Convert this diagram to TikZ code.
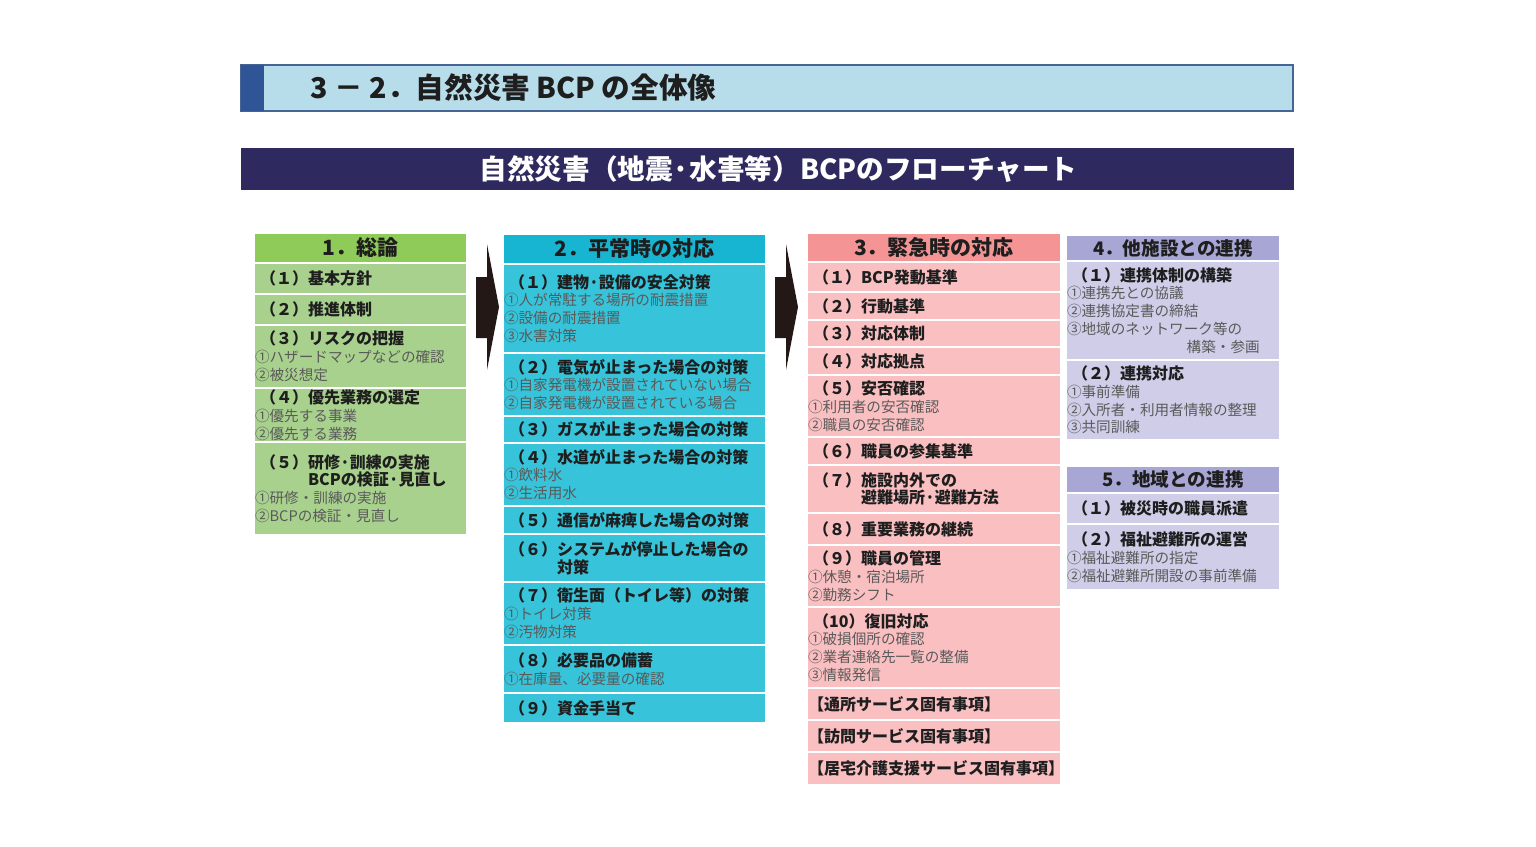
\documentclass[tikz,border=0pt]{standalone}
\usepackage{fontspec}
\setmainfont{Noto Sans CJK JP}
\usepackage{tikz}
\usetikzlibrary{positioning}
\definecolor{barblue}{RGB}{183,221,234}
\definecolor{bandblue}{RGB}{47,85,151}
\definecolor{barline}{RGB}{70,100,150}
\definecolor{navy}{RGB}{46,41,94}
\definecolor{grnhead}{RGB}{143,203,88}
\definecolor{grnrow}{RGB}{169,209,142}
\definecolor{cyanhead}{RGB}{24,181,210}
\definecolor{cyanrow}{RGB}{55,195,217}
\definecolor{pinkhead}{RGB}{245,148,148}
\definecolor{pinkrow}{RGB}{250,191,193}
\definecolor{lavhead}{RGB}{167,166,213}
\definecolor{lavrow}{RGB}{207,205,232}
\definecolor{arrowdark}{RGB}{35,24,21}
\definecolor{inkdark}{RGB}{30,30,30}
\definecolor{subgray}{RGB}{90,90,90}
\newcommand\subit[1]{{\hspace*{-2.5pt}\mdseries\color{subgray}\fontsize{7.3}{8.8}\selectfont #1}}
\newcommand\contind{\hspace*{3em}}
\tikzset{every node/.style={outer sep=0pt},
    rowh/.style={minimum height=#1*0.5pt},
    cell/.style={rectangle,draw=white,line width=0.8pt,inner xsep=3pt,inner ysep=0pt,
        align=left,text=inkdark,font=\bfseries\fontsize{8}{8.9}\selectfont},
    colhead/.style={cell,align=center,font=\bfseries\fontsize{10.5}{12}\selectfont},
    grnhd/.style={colhead,fill=grnhead,text width=100.5pt},
    grn/.style={cell,fill=grnrow,text width=100.5pt},
    cyanhd/.style={colhead,fill=cyanhead,text width=125.5pt},
    cyan/.style={cell,fill=cyanrow,text width=125.5pt},
    pinkhd/.style={colhead,fill=pinkhead,text width=121pt},
    pink/.style={cell,fill=pinkrow,text width=121pt},
    brk/.style={inner xsep=0.5pt,text width=126pt},
    lavhd/.style={colhead,fill=lavhead,text width=101pt,font=\bfseries\fontsize{9.3}{11}\selectfont},
    lav/.style={cell,fill=lavrow,text width=101pt},
    titlebar/.style={rectangle,minimum width=526pt,minimum height=23pt,fill=barblue,draw=barline,line width=0.8pt},
    flowbar/.style={rectangle,minimum width=526.5pt,minimum height=21pt,fill=navy,text=white,
        font=\bfseries\fontsize{13.8}{16}\selectfont}}

\begin{document}
\begin{tikzpicture}[x=0.5pt,y=-0.5pt]
\useasboundingbox (0,0) rectangle (1536,846);

% title bars
\node[titlebar,anchor=north west] (bar) at (241,65) {};
\fill[bandblue] (bar.north west) rectangle ([xshift=11.5pt]bar.south west);
\node[anchor=west,text=inkdark,font=\bfseries\fontsize{14.3}{16}\selectfont] (ttl) at (304,88) {3 － 2．自然災害 BCP の全体像};
\node[flowbar,anchor=north west] (flow) at (241,148) {\hspace*{11pt}自然災害（地震·水害等）BCPのフローチャート};

% 1. general
\node[grnhd,rowh=30,anchor=north west] (g0) at (254,233) {1．総論};
\node[grn,rowh=31,below=0pt of g0] (g1) {（１）基本方針};
\node[grn,rowh=31,below=0pt of g1] (g2) {（２）推進体制};
\node[grn,rowh=63,below=0pt of g2] (g3) {（３）リスクの把握\\ \subit{①ハザードマップなどの確認}\\ \subit{②被災想定}};
\node[grn,rowh=54,below=0pt of g3] (g4) {（４）優先業務の選定\\ \subit{①優先する事業}\\ \subit{②優先する業務}};
\node[grn,rowh=93,below=0pt of g4] (g5) {（５）研修·訓練の実施\\ \contind BCPの検証·見直し\\ \subit{①研修・訓練の実施}\\ \subit{②BCPの検証・見直し}};

% 2. normal times
\node[cyanhd,rowh=30,anchor=north west] (b0) at (503,234) {2．平常時の対応};
\node[cyan,rowh=89,below=0pt of b0] (b1) {（１）建物·設備の安全対策\\ \subit{①人が常駐する場所の耐震措置}\\ \subit{②設備の耐震措置}\\ \subit{③水害対策}};
\node[cyan,rowh=63,below=0pt of b1] (b2) {（２）電気が止まった場合の対策\\ \subit{①自家発電機が設置されていない場合}\\ \subit{②自家発電機が設置されている場合}};
\node[cyan,rowh=27,below=0pt of b2] (b3) {（３）ガスが止まった場合の対策};
\node[cyan,rowh=63,below=0pt of b3] (b4) {（４）水道が止まった場合の対策\\ \subit{①飲料水}\\ \subit{②生活用水}};
\node[cyan,rowh=28,below=0pt of b4] (b5) {（５）通信が麻痺した場合の対策};
\node[cyan,rowh=48,below=0pt of b5] (b6) {（６）システムが停止した場合の\\ \contind 対策};
\node[cyan,rowh=63,below=0pt of b6] (b7) {（７）衛生面（トイレ等）の対策\\ \subit{①トイレ対策}\\ \subit{②汚物対策}};
\node[cyan,rowh=48,below=0pt of b7] (b8) {（８）必要品の備蓄\\ \subit{①在庫量、必要量の確認}};
\node[cyan,rowh=30,below=0pt of b8] (b9) {（９）資金手当て};

% 3. emergency
\node[pinkhd,rowh=29,anchor=north west] (r0) at (807,233) {3．緊急時の対応};
\node[pink,rowh=30,below=0pt of r0] (r1) {（１）BCP発動基準};
\node[pink,rowh=28,below=0pt of r1] (r2) {（２）行動基準};
\node[pink,rowh=27,below=0pt of r2] (r3) {（３）対応体制};
\node[pink,rowh=28,below=0pt of r3] (r4) {（４）対応拠点};
\node[pink,rowh=62,below=0pt of r4] (r5) {（５）安否確認\\ \subit{①利用者の安否確認}\\ \subit{②職員の安否確認}};
\node[pink,rowh=28,below=0pt of r5] (r6) {（６）職員の参集基準};
\node[pink,rowh=48,below=0pt of r6] (r7) {（７）施設内外での\\ \contind 避難場所·避難方法};
\node[pink,rowh=32,below=0pt of r7] (r8) {（８）重要業務の継続};
\node[pink,rowh=62,below=0pt of r8] (r9) {（９）職員の管理\\ \subit{①休憩・宿泊場所}\\ \subit{②勤務シフト}};
\node[pink,rowh=81,below=0pt of r9] (r10) {（10）復旧対応\\ \subit{①破損個所の確認}\\ \subit{②業者連絡先一覧の整備}\\ \subit{③情報発信}};
\node[pink,brk,rowh=32,below=0pt of r10] (r11) {【通所サービス固有事項】};
\node[pink,brk,rowh=32,below=0pt of r11] (r12) {【訪問サービス固有事項】};
\node[pink,brk,rowh=33,below=0pt of r12] (r13) {【居宅介護支援サービス固有事項】};

% 4. other facilities
\node[lavhd,rowh=26,anchor=north west] (p0) at (1066,235) {4．他施設との連携};
\node[lav,rowh=99,below=0pt of p0] (p1) {（１）連携体制の構築\\ \subit{①連携先との協議}\\ \subit{②連携協定書の締結}\\ \subit{③地域のネットワーク等の}\\ \subit{\hspace*{8.2em}構築・参画}};
\node[lav,rowh=80,below=0pt of p1] (p2) {（２）連携対応\\ \subit{①事前準備}\\ \subit{②入所者・利用者情報の整理}\\ \subit{③共同訓練}};

% 5. community
\node[lavhd,rowh=27,anchor=north west] (q0) at (1066,466) {5．地域との連携};
\node[lav,rowh=31,below=0pt of q0] (q1) {（１）被災時の職員派遣};
\node[lav,rowh=66,below=0pt of q1] (q2) {（２）福祉避難所の運営\\ \subit{①福祉避難所の指定}\\ \subit{②福祉避難所開設の事前準備}};

% block arrows
\foreach \ax in {476,775}
  \fill[arrowdark] (\ax,277) -- (\ax+11,277) -- (\ax+11,244) -- (\ax+23,307) -- (\ax+11,370)
      -- (\ax+11,338) -- (\ax,338) -- cycle;
\end{tikzpicture}
\end{document}
